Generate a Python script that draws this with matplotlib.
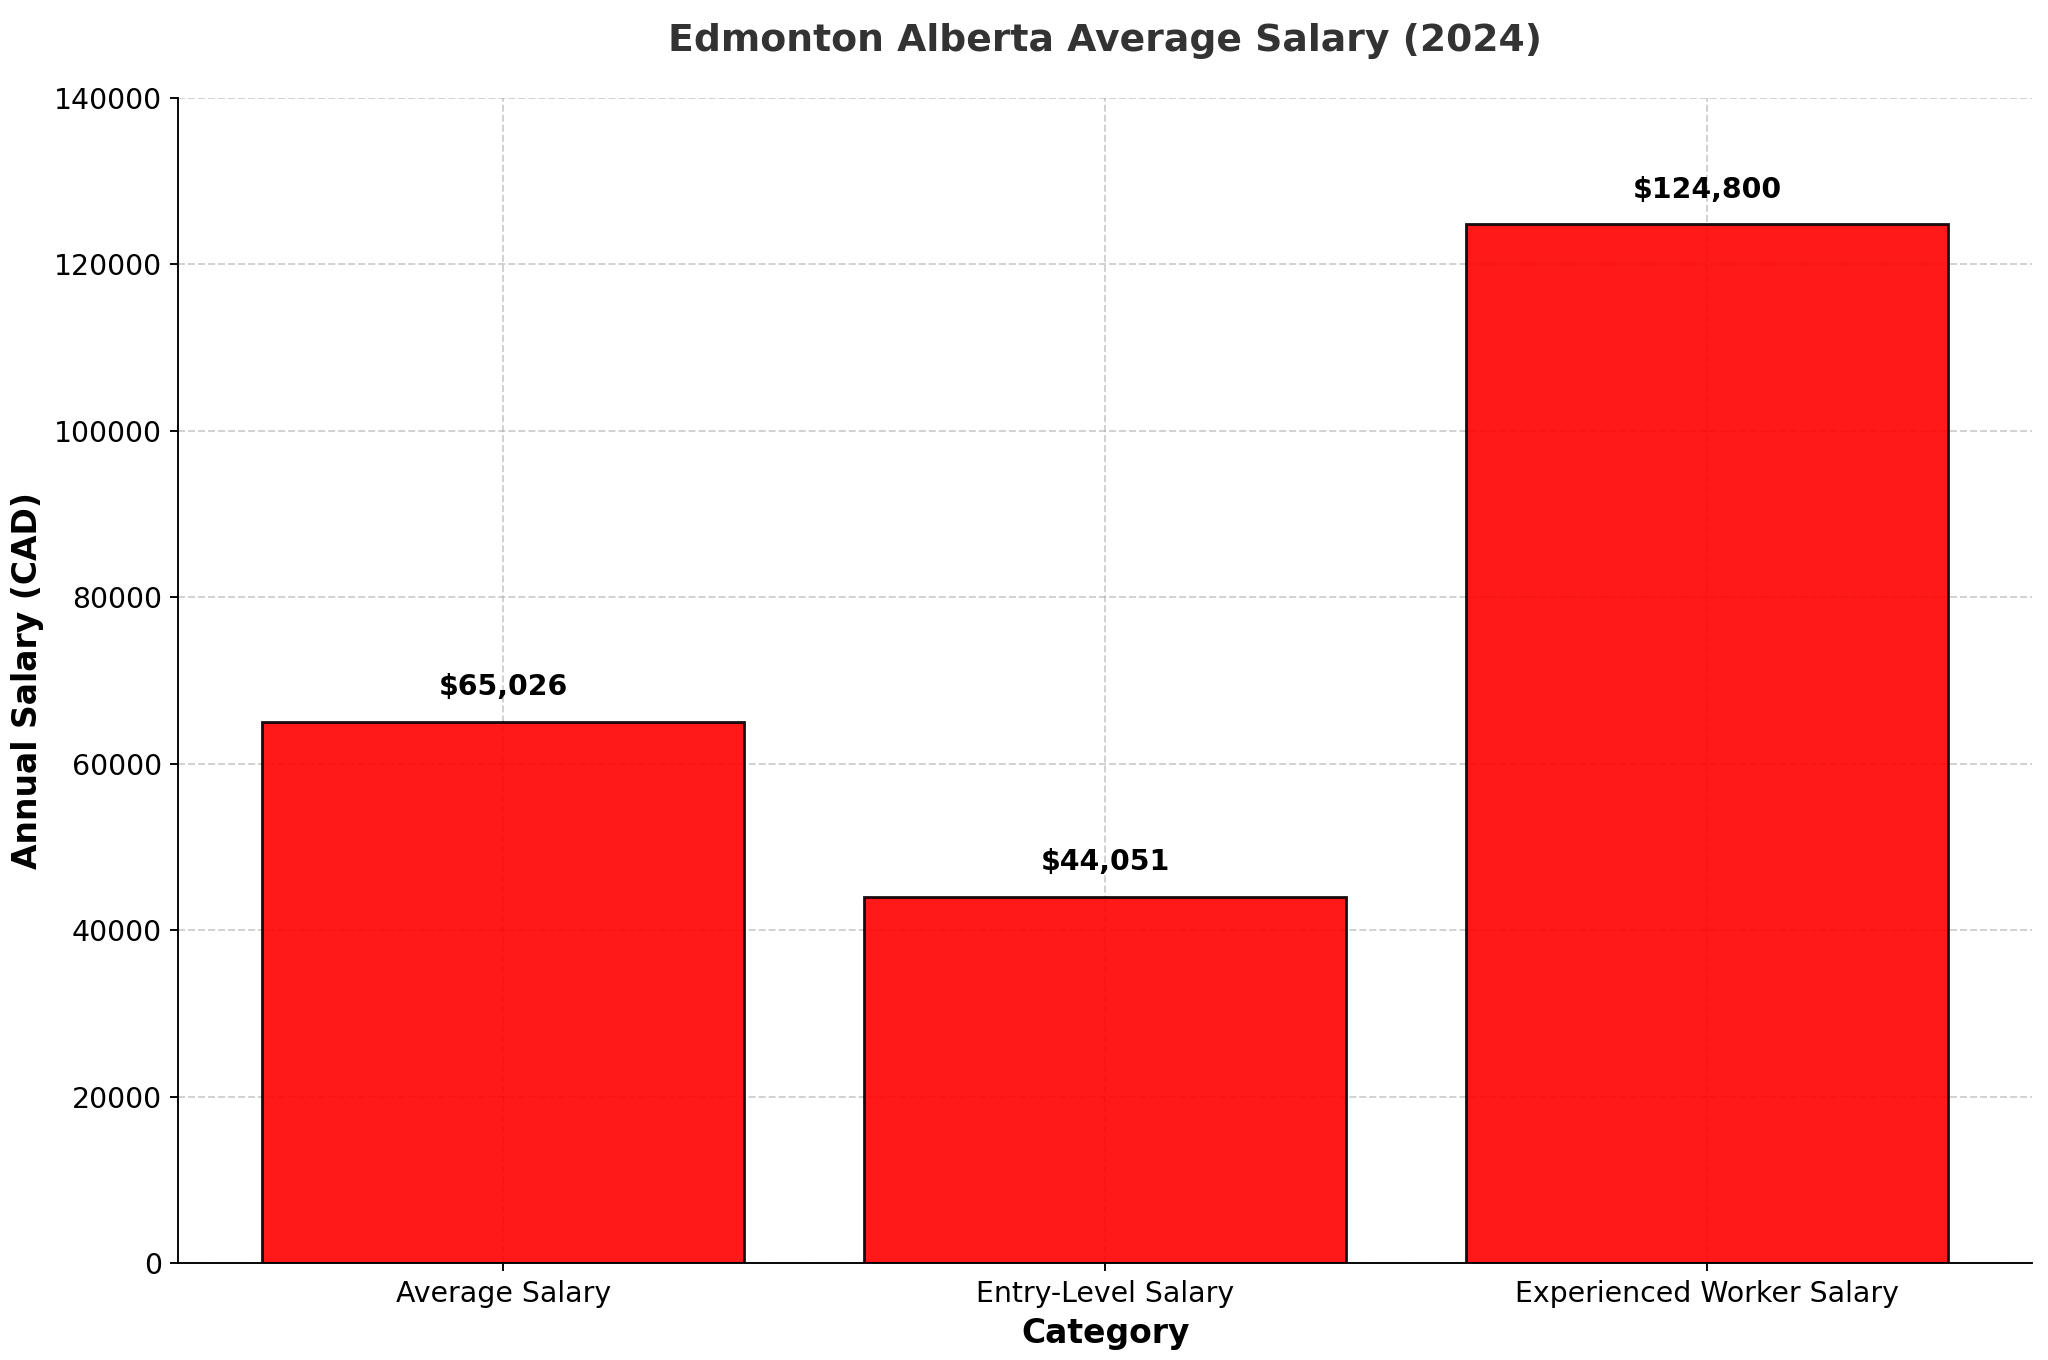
import matplotlib.pyplot as plt

categories = ['Average Salary', 'Entry-Level Salary', 'Experienced Worker Salary']
salaries = [65026, 44051, 124800]

fig = plt.figure(figsize=(12.05, 8.0), dpi=170)
ax = fig.add_axes([0.087, 0.071, 0.905, 0.857])

bars = ax.bar(categories, salaries, color='red', alpha=0.9, edgecolor='black', linewidth=1.2, width=0.8)

for b, v in zip(bars, salaries):
    ax.text(b.get_x() + b.get_width() / 2, v + 2500, f'${v:,}',
            ha='center', va='bottom', fontsize=12, fontweight='bold')

ax.set_ylim(0, 140000)
ax.set_yticks(range(0, 140001, 20000))
ax.set_title('Edmonton Alberta Average Salary (2024)', fontsize=16, fontweight='bold', color='#333333', pad=20)
ax.set_xlabel('Category', fontsize=14, fontweight='bold')
ax.set_ylabel('Annual Salary (CAD)', fontsize=14, fontweight='bold')
ax.tick_params(labelsize=12)
ax.grid(True, linestyle='--', alpha=0.6)
ax.set_axisbelow(True)
ax.spines['top'].set_visible(False)
ax.spines['right'].set_visible(False)

fig.savefig('out.png')
